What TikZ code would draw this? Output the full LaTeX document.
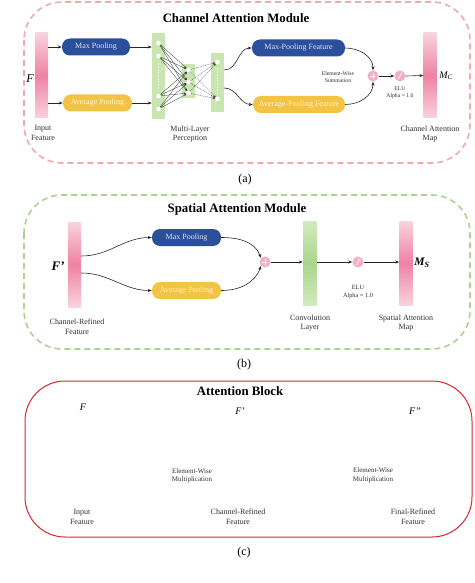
\documentclass[tikz,border=0pt]{standalone}
\usepackage{fontspec}
\setmainfont{Liberation Serif}
\usetikzlibrary{arrows.meta,calc}
\definecolor{pinkL}{HTML}{F9D3DE}
\definecolor{pinkM}{HTML}{EE82A4}
\definecolor{greenL}{HTML}{D3EBC0}
\definecolor{greenM}{HTML}{A9D68A}
\definecolor{mlpgreen}{HTML}{C9E6B1}
\definecolor{poolblue}{HTML}{2C4F9C}
\definecolor{poolyellow}{HTML}{F3C443}
\definecolor{circpink}{HTML}{F4AFC2}
\definecolor{bordpink}{HTML}{F2A9AC}
\definecolor{bordgreen}{HTML}{ABD28F}
\definecolor{bordred}{HTML}{D7282F}
\definecolor{txt}{HTML}{303030}
\tikzset{
  barpink/.style={rectangle, minimum width=13pt, minimum height=85pt, inner sep=0pt,
    top color=pinkL, bottom color=pinkL, middle color=pinkM},
  bargreen/.style={rectangle, minimum width=14pt, minimum height=84pt, inner sep=0pt,
    top color=greenL, bottom color=greenL, middle color=greenM},
  mlprect/.style={rectangle, fill=mlpgreen, inner sep=0pt, minimum width=13pt},
  neuron/.style={circle, fill=white, draw=black!15, line width=0.2pt, inner sep=0pt, minimum size=5pt},
  poolbox/.style={rectangle, rounded corners=8pt, minimum height=17pt, inner sep=1pt,
    font=\fontsize{8}{9}\selectfont},
  bluebox/.style={poolbox, fill=poolblue, text=white!85!poolblue},
  yellowbox/.style={poolbox, fill=poolyellow, text=white!80!poolyellow},
  lbl/.style={align=center, text=txt, inner sep=0pt, font=\fontsize{8}{9.8}\selectfont},
  smlbl/.style={align=center, text=txt, inner sep=0pt, font=\fontsize{5.7}{7.2}\selectfont},
  mdlbl/.style={align=center, text=txt, inner sep=0pt, font=\fontsize{6.3}{8}\selectfont},
  mullbl/.style={align=center, text=txt, inner sep=0pt, font=\fontsize{7}{8.6}\selectfont},
  ttl/.style={inner sep=0pt, font=\fontsize{12.8}{14}\selectfont\bfseries},
  captxt/.style={inner sep=0pt, font=\fontsize{12}{14}\selectfont},
  opc/.style={circle, fill=circpink, inner sep=0pt, minimum size=11pt},
  arr/.style={-{Stealth[length=4pt,width=3pt]}, line width=0.6pt, draw=black!85},
  thinarr/.style={-{Stealth[length=2.2pt,width=1.8pt]}, line width=0.3pt, draw=black!80},
  feat/.style={inner sep=0pt, font=\fontsize{12}{14}\selectfont\itshape},
}
\begin{document}
\begin{tikzpicture}[x=1pt,y=-1pt]
\useasboundingbox (0,0) rectangle (474,583);

% ---------------- (a) Channel attention ----------------
\draw[bordpink, line width=1.6pt, dash pattern=on 6pt off 4pt, rounded corners=38pt]
  (24,2) rectangle (470,163);
\node[ttl] (ta) at (236,18) {Channel Attention Module};

\node[barpink] (Fa) at (41.5,75.5) {};
\node[feat] (Fal) at (30,79) {F};
\node[lbl] (Fat) at (43,133) {Input\\Feature};

\node[bluebox, minimum width=68pt] (mpa) at (96,47) {Max Pooling};
\node[yellowbox, minimum width=69pt] (apa) at (97.5,103) {Average Pooling};
\draw[arr] ([yshift=28.5pt]Fa.east) -- (mpa.west);
\draw[arr] ([yshift=-27.5pt]Fa.east) -- (apa.west);

% MLP
\node[mlprect, minimum height=86pt] (L1) at (158.5,76) {};
\node[mlprect, minimum height=34pt] (L2) at (188.5,81.5) {};
\node[mlprect, minimum height=59pt] (L3) at (217.5,82.5) {};
\node[neuron] (a1) at (158.5,43) {};
\node[neuron] (a2) at (158.5,56) {};
\node[neuron] (a3) at (158.5,96) {};
\node[neuron] (a4) at (158.5,109) {};
\node[neuron] (b1) at (188.5,70) {};
\node[neuron] (b2) at (188.5,82) {};
\node[neuron] (b3) at (188.5,93) {};
\node[neuron] (c1) at (217.5,62) {};
\node[neuron] (c2) at (217.5,99) {};
\foreach \yy in {64,67,...,88} \fill[white] (158.5,\yy) circle (0.55pt);
\foreach \yy in {69,72,...,93} \fill[white] (217.5,\yy) circle (0.55pt);
\draw[arr] (mpa.east) -- (mpa.east -| L1.west);
\draw[arr] (apa.east) -- (apa.east -| L1.west);
\foreach \i in {a1,a2,a3,a4}
  \foreach \j in {b1,b2,b3}
    \draw[thinarr] (\i) -- (\j);
\foreach \i in {b1,b2,b3}
  \foreach \j in {c1,c2}
    \draw[thinarr, dash pattern=on 1pt off 0.8pt] (\i) -- (\j);
\node[lbl] (mlpt) at (190,134) {Multi-Layer\\Perception};

\node[bluebox, minimum width=93pt] (mpf) at (298.5,48) {Max-Pooling Feature};
\node[yellowbox, minimum width=92pt] (apf) at (299,104.5) {Average-Pooling Feature};
\draw[arr] ([yshift=12.5pt]L3.east) to[out=0,in=180] (mpf.west);
\draw[arr] ([yshift=-5.5pt]L3.east) to[out=0,in=180] (apf.west);

\node[opc] (suma) at (373,76) {};
\draw[white, line width=0.6pt] ($(suma)+(-3,0)$) -- ($(suma)+(3,0)$) ($(suma)+(0,-3)$) -- ($(suma)+(0,3)$);
\node[smlbl] (sumt) at (338,77) {Element-Wise\\Summation};
\draw[arr] (mpf.east) to[out=0,in=90] (suma.north);
\draw[arr] (apf.east) to[out=0,in=-90] (suma.south);

\node[opc] (elua) at (400,76) {};
\draw[white, line width=0.6pt] ($(elua)+(-2.5,3)$) .. controls ($(elua)+(0.5,3)$) and ($(elua)+(-0.5,-3)$) .. ($(elua)+(2.5,-3)$);
\node[smlbl] (eluat) at (400,93) {ELU\\Alpha = 1.0};
\draw[arr] (suma.east) -- (elua.west);

\node[barpink] (Mc) at (430,75.5) {};
\node[feat, font=\fontsize{10}{12}\selectfont\itshape] (Mcl) at (446,76) {M\textsubscript{\textit{C}}};
\draw[arr] (elua.east) -- (Mc.west);
\node[lbl] (Mct) at (430,134) {Channel Attention\\Map};

\node[captxt] (capa) at (245,180) {(a)};

% ---------------- (b) Spatial attention ----------------
\draw[bordgreen, line width=1.6pt, dash pattern=on 6pt off 4pt, rounded corners=38pt]
  (24,195) rectangle (470,349);
\node[ttl] (tb) at (237,209) {Spatial Attention Module};

\node[barpink] (Fb) at (74.5,264.5) {};
\node[feat, font=\fontsize{13}{15}\selectfont\bfseries\itshape] (Fbl) at (58,266) {F'};
\node[lbl] (Fbt) at (77,327) {Channel-Refined\\Feature};

\node[bluebox, minimum width=69pt] (mpb) at (186.5,237.5) {Max Pooling};
\node[yellowbox, minimum width=69pt] (apb) at (186.5,290.5) {Average Pooling};
\draw[arr] ([yshift=8.5pt]Fb.east) to[out=0,in=180] (mpb.west);
\draw[arr] ([yshift=-8.5pt]Fb.east) to[out=0,in=180] (apb.west);

\node[opc] (sumb) at (265,262) {};
\draw[white, line width=0.6pt] ($(sumb)+(-3,0)$) -- ($(sumb)+(3,0)$) ($(sumb)+(0,-3)$) -- ($(sumb)+(0,3)$);
\draw[arr] (mpb.east) to[out=0,in=110] (sumb.north west);
\draw[arr] (apb.east) to[out=0,in=-110] (sumb.south west);

\node[bargreen] (conv) at (310,263) {};
\node[lbl] (convt) at (310,323) {Convolution\\Layer};
\draw[arr] (sumb.east) -- (sumb.east -| conv.west);

\node[opc] (elub) at (358,262) {};
\draw[white, line width=0.6pt] ($(elub)+(-2.5,3)$) .. controls ($(elub)+(0.5,3)$) and ($(elub)+(-0.5,-3)$) .. ($(elub)+(2.5,-3)$);
\node[mdlbl] (elubt) at (358,292) {ELU\\Alpha = 1.0};
\draw[arr] (conv.east |- elub) -- (elub.west);

\node[barpink, minimum height=84pt] (Ms) at (406,263) {};
\node[feat, font=\fontsize{11.5}{13}\selectfont\bfseries\itshape] (Msl) at (422,263) {M\textsubscript{\textit{S}}};
\draw[arr] (elub.east) -- (elub.east -| Ms.west);
\node[lbl] (Mst) at (406,323) {Spatial Attention\\Map};

\node[captxt] (capb) at (244,365) {(b)};

% ---------------- (c) Attention block ----------------
\draw[bordred, line width=1pt, rounded corners=40pt] (25,381) rectangle (472,537);
\node[ttl] (tc) at (240,391) {Attention Block};

\node[feat, font=\fontsize{10}{12}\selectfont\itshape] (Fc1) at (83,407) {F};
\node[feat, font=\fontsize{10}{12}\selectfont\itshape] (Fc2) at (240,411) {F'};
\node[feat, font=\fontsize{10}{12}\selectfont\itshape] (Fc3) at (415,411) {F''};
\node[mullbl] (em1) at (192,476) {Element-Wise\\Multiplication};
\node[mullbl] (em2) at (373,475.5) {Element-Wise\\Multiplication};
\node[lbl] (ic) at (82,517) {Input\\Feature};
\node[lbl] (cc) at (238,517) {Channel-Refined\\Feature};
\node[lbl] (fc) at (413,517) {Final-Refined\\Feature};

\node[captxt] (capc) at (244,553) {(c)};
\end{tikzpicture}
\end{document}
